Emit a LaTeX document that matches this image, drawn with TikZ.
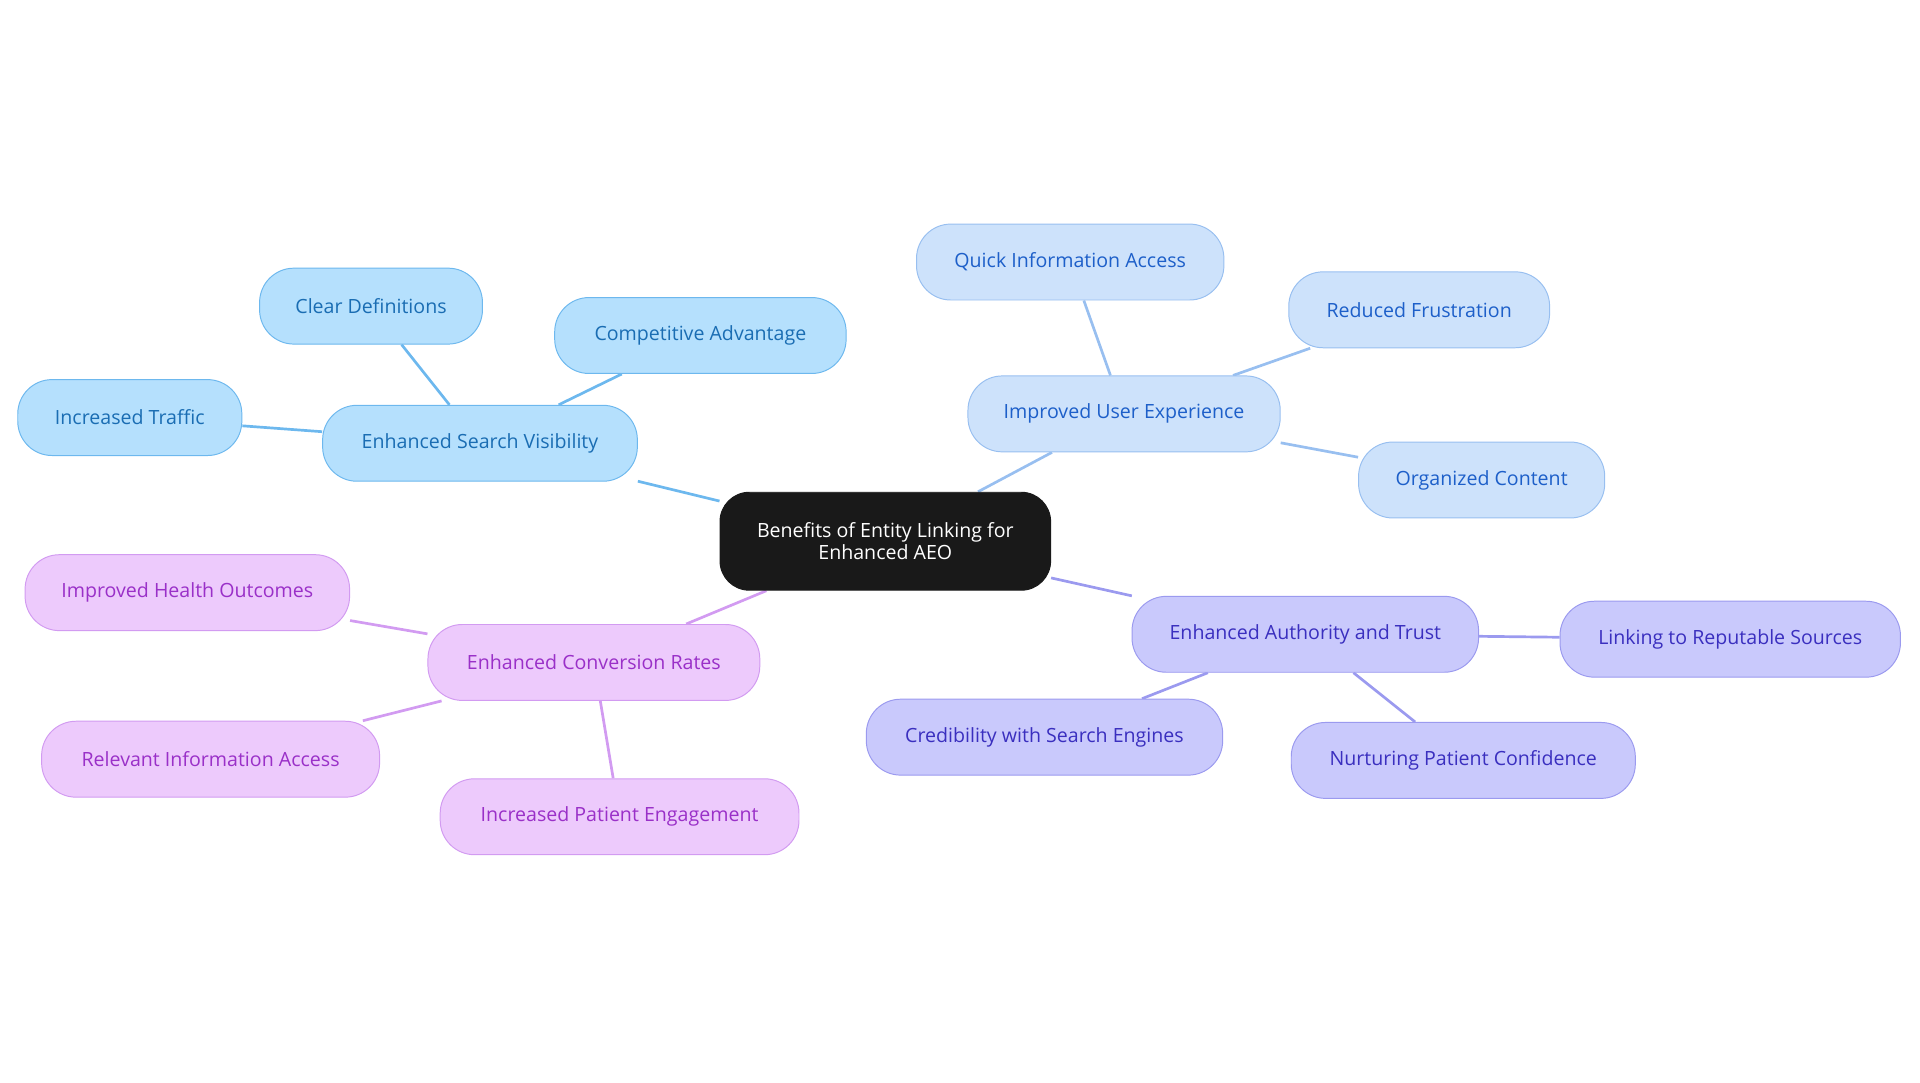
\documentclass[tikz,border=0pt]{standalone}
\usepackage{fontspec}
\setmainfont{Open Sans}
\begin{document}
\begin{tikzpicture}[x=1pt,y=-1pt,
 base/.style={rounded corners=28pt,minimum height=62pt,font=\fontsize{16}{17}\selectfont,line width=0.8pt,inner sep=0pt},
 cb/.style={base,fill=cba,draw=cbb,text=cbt},
 cl/.style={base,fill=cla,draw=clb,text=clt},
 cp/.style={base,fill=cpa,draw=cpb,text=cpt},
 cv/.style={base,fill=cva,draw=cvb,text=cvt},
 eb/.style={draw=cbb,line width=2.2pt},
 el/.style={draw=clb,line width=2.2pt},
 ep/.style={draw=cpb,line width=2.2pt},
 ev/.style={draw=cvb,line width=2.2pt}]
\definecolor{cba}{HTML}{B5E0FD}\definecolor{cbb}{HTML}{6DB8EE}\definecolor{cbt}{HTML}{1A6DB3}
\definecolor{cla}{HTML}{CDE2FB}\definecolor{clb}{HTML}{98BFF0}\definecolor{clt}{HTML}{1D5FC9}
\definecolor{cpa}{HTML}{C9C9FC}\definecolor{cpb}{HTML}{9B9AEF}\definecolor{cpt}{HTML}{3A2FBF}
\definecolor{cva}{HTML}{EDCAFC}\definecolor{cvb}{HTML}{D29BF1}\definecolor{cvt}{HTML}{9A30C8}
\useasboundingbox (0,0) rectangle (1568,884);
\node[base,fill=black!85!blue!40!black,fill=black!90,draw=black!90,text=white,minimum width=270pt,minimum height=80pt,rounded corners=24pt,align=center,font=\fontsize{16}{18}\selectfont] (r) at (723,442) {Benefits of Entity Linking for\\Enhanced AEO};
\node[cb,minimum width=257pt] (b) at (392,362) {Enhanced Search Visibility};
\node[cb,minimum width=182pt] (b1) at (303,250) {Clear Definitions};
\node[cb,minimum width=238pt] (b2) at (572,274) {Competitive Advantage};
\node[cb,minimum width=183pt] (b3) at (106,341) {Increased Traffic};
\node[cl,minimum width=255pt] (l) at (918,338) {Improved User Experience};
\node[cl,minimum width=251pt] (l1) at (874,214) {Quick Information Access};
\node[cl,minimum width=213pt] (l2) at (1159,253) {Reduced Frustration};
\node[cl,minimum width=201pt] (l3) at (1210,392) {Organized Content};
\node[cp,minimum width=283pt] (p) at (1066,518) {Enhanced Authority and Trust};
\node[cp,minimum width=278pt] (p1) at (1413,522) {Linking to Reputable Sources};
\node[cp,minimum width=291pt] (p2) at (853,602) {Credibility with Search Engines};
\node[cp,minimum width=281pt] (p3) at (1195,621) {Nurturing Patient Confidence};
\node[cv,minimum width=271pt] (v) at (485,541) {Enhanced Conversion Rates};
\node[cv,minimum width=265pt] (v1) at (153,484) {Improved Health Outcomes};
\node[cv,minimum width=276pt] (v2) at (172,620) {Relevant Information Access};
\node[cv,minimum width=293pt] (v3) at (506,667) {Increased Patient Engagement};
\begin{scope}[on background layer/.style={}]
\end{scope}
\pgfdeclarelayer{bg}\pgfsetlayers{bg,main}
\begin{pgfonlayer}{bg}
\draw[eb] (r) -- (b); \draw[eb] (b) -- (b1); \draw[eb] (b) -- (b2); \draw[eb] (b) -- (b3);
\draw[el] (r) -- (l); \draw[el] (l) -- (l1); \draw[el] (l) -- (l2); \draw[el] (l) -- (l3);
\draw[ep] (r) -- (p); \draw[ep] (p) -- (p1); \draw[ep] (p) -- (p2); \draw[ep] (p) -- (p3);
\draw[ev] (r) -- (v); \draw[ev] (v) -- (v1); \draw[ev] (v) -- (v2); \draw[ev] (v) -- (v3);
\end{pgfonlayer}
\end{tikzpicture}
\end{document}
